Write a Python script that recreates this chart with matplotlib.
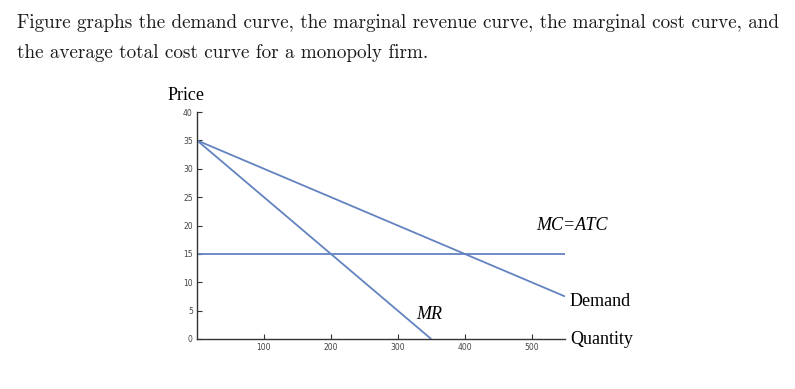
import matplotlib
matplotlib.use("Agg")
import matplotlib.pyplot as plt
import numpy as np

# Data
q_demand = [0, 550]
p_demand = [35, 7.5]
q_mr = [0, 350]
p_mr = [35, 0]
q_mc = [0, 550]
p_mc = [15, 15]
x_ticks = [100, 200, 300, 400, 500]
y_ticks = [0, 5, 10, 15, 20, 25, 30, 35, 40]

header_lines = ["Figure graphs the demand curve, the marginal revenue curve, the marginal cost curve, and",
                "the average total cost curve for a monopoly firm."]

W, H = 795, 389
fig = plt.figure(figsize=(W / 100, H / 100), dpi=100)
fig.patch.set_facecolor("white")

for i, (line, base) in enumerate(zip(header_lines, [28, 58])):
    fig.text(17 / W, 1 - base / H, line, fontfamily="cmr10", fontsize=13.75,
             va="baseline", ha="left", color="#1a1a1a")

ax = fig.add_axes([197 / W, 50 / H, (565 - 197) / W, (339 - 112) / H])
line_c = "#6283C0"
ax.plot(q_demand, p_demand, color=line_c, lw=1.3, solid_capstyle="butt")
ax.plot(q_mr, p_mr, color=line_c, lw=1.3, solid_capstyle="butt")
ax.plot(q_mc, p_mc, color=line_c, lw=1.3, solid_capstyle="butt")

ax.set_xlim(0, 550)
ax.set_ylim(0, 40)
ax.set_xticks(x_ticks)
ax.set_yticks(y_ticks)
for s in ["top", "right"]:
    ax.spines[s].set_visible(False)
for s in ["left", "bottom"]:
    ax.spines[s].set_color("#333333")
    ax.spines[s].set_linewidth(1.0)
ax.tick_params(direction="in", length=3.5, width=0.8, colors="#333333",
               labelsize=5.5, labelcolor="#444444", pad=3)
ax.patch.set_alpha(0)

serif = "Liberation Serif"
fs = 13
ax.text(-11 / 0.67, 40 + 17 / 5.68, "Price", fontfamily=serif, fontsize=fs,
        ha="center", va="center", clip_on=False)
ax.text(558, 0.0, "Quantity", fontfamily=serif, fontsize=fs,
        ha="left", va="center", clip_on=False)
ax.text(557, 6.6, "Demand", fontfamily=serif, fontsize=fs,
        ha="left", va="center", clip_on=False)
ax.text(327, 4.4, "MR", fontfamily=serif, fontsize=fs, style="italic",
        ha="left", va="center", clip_on=False)
ax.text(560, 20.0, "MC=ATC", fontfamily=serif, fontsize=fs, style="italic",
        ha="center", va="center", clip_on=False)

fig.savefig("out.png", dpi=100)
